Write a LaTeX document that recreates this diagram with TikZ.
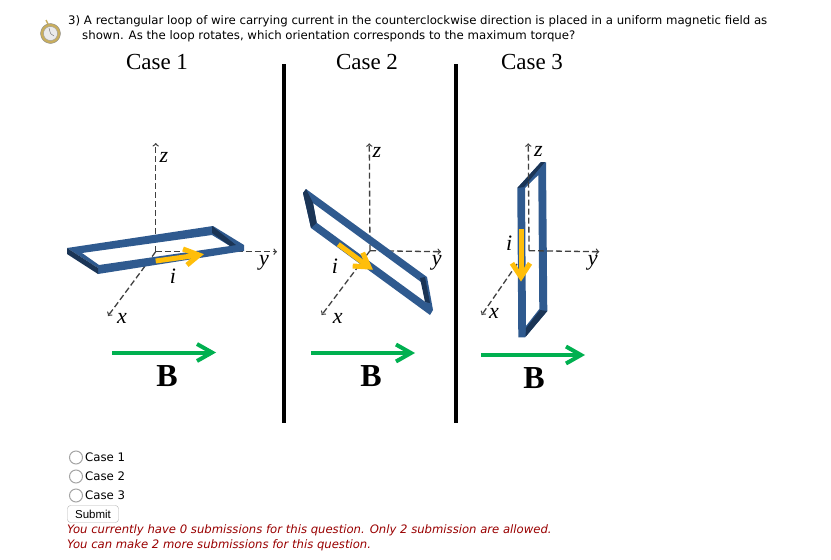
\documentclass[tikz,border=0pt]{standalone}
\usepackage{fontspec}
\usepackage{xcolor}
\setmainfont{DejaVu Sans}
\newfontfamily\serifface{Liberation Serif}
\newfontfamily\buttonface{Liberation Sans}
\definecolor{loopBlue}{HTML}{2F5A8F}
\definecolor{loopDark}{HTML}{1B3556}
\definecolor{currentGold}{HTML}{FFBE0A}
\definecolor{fieldGreen}{HTML}{00B050}
\definecolor{noteRed}{HTML}{990000}
\definecolor{watchGold}{HTML}{C9AE5D}
\tikzset{
    axisline/.style={->, >=to, line width=1.3pt, black!75, dash pattern=on 6pt off 3pt},
    axislabel/.style={font=\serifface\itshape\fontsize{22}{22}\selectfont},
    current/.style={line width=5pt, currentGold},
    field/.style={line width=4pt, fieldGreen},
    fieldlabel/.style={font=\serifface\bfseries\fontsize{32}{32}\selectfont},
    casetitle/.style={font=\serifface\fontsize{23}{23}\selectfont},
    divider/.style={line width=4pt, black},
    question/.style={anchor=west, inner sep=0pt, font=\fontsize{11.75}{11.75}\selectfont},
    choice/.style={anchor=west, inner sep=0pt, font=\fontsize{11.75}{11.75}\selectfont},
    radio/.style={draw=black!35, fill=white, line width=1pt},
    note/.style={anchor=west, inner sep=0pt, text=noteRed, font=\itshape\fontsize{11.65}{11.65}\selectfont}
}
\begin{document}
\begin{tikzpicture}[x=1pt, y=-1pt]
    \useasboundingbox (0,0) rectangle (831,560);

    % stopwatch
    \draw[watchGold, line width=1.5pt] (46,20) -- (48,24);
    \filldraw[draw=black!45, fill=watchGold] (50.5,33.5) circle (10);
    \filldraw[draw=black!40, fill=black!8] (50.5,33.5) circle (7);
    \draw[black!60] (50.5,33.5) -- (49,28);
    \draw[black!60] (50.5,33.5) -- (54,36);

    % question
    \node[question] (lineA) at (68,21) {3) A rectangular loop of wire carrying current in the counterclockwise direction is placed in a uniform magnetic field as};
    \node[question] (lineB) at (82,36) {shown. As the loop rotates, which orientation corresponds to the maximum torque?};

    \node[casetitle] (caseA) at (157,62) {Case 1};
    \node[casetitle] (caseB) at (367,62) {Case 2};
    \node[casetitle] (caseC) at (532,62) {Case 3};
    \draw[divider] (284,64) -- (284,423);
    \draw[divider] (456,64) -- (456,423);

    % case 1
    \draw[axisline] (155.7,251.7) -- (155.7,143);
    \draw[axisline] (155.7,251.7) -- (277,251.7);
    \draw[axisline] (155.7,251.7) -- (108,316);
    \fill[loopBlue, even odd rule] (67,248) -- (213,226) -- (244,245) -- (244,251) -- (98,274) -- (98,268) -- cycle
        (82,253) -- (212,235) -- (230,246) -- (99,265) -- cycle;
    \fill[loopDark] (67,248) -- (98,268) -- (98,274) -- (67,254) -- cycle;
    \fill[loopDark] (212,226) -- (236,245) -- (230,246) -- (212,233) -- cycle;
    \draw[current] (155.7,261) -- (199,255);
    \draw[current] (183,249) -- (199,255) -- (187,265);
    \node[axislabel] (zA) at (164,157) {z};
    \node[axislabel] (yA) at (264,263) {y};
    \node[axislabel] (xA) at (122,318) {x};
    \node[axislabel] (iA) at (173,276) {i};
    \draw[field] (112,352.5) -- (212,352.5);
    \draw[field] (197,344) -- (212,352.5) -- (197,361);
    \node[fieldlabel] (fieldA) at (167,376) {B};

    % case 2
    \draw[axisline] (370,250.7) -- (369.3,143.3);
    \draw[axisline] (370,250.7) -- (441,251.7);
    \draw[axisline] (370,250.7) -- (321.7,315);
    \fill[loopBlue, even odd rule] (306,189) -- (427,277) -- (433,310) -- (430,315) -- (311,228) -- (303,193) -- cycle
        (313,203) -- (421,282) -- (426.7,303) -- (316.7,222.7) -- cycle;
    \fill[loopDark] (303,193) -- (306,189) -- (313,203) -- (316.7,222.7) -- (311,228) -- cycle;
    \fill[loopDark] (420,278) -- (425,277) -- (430,303) -- (425,302) -- cycle;
    \draw[current] (338.3,244.3) -- (369,267);
    \draw[current] (362.7,252.7) -- (369,267) -- (352.7,266);
    \node[axislabel] (zB) at (377,152) {z};
    \node[axislabel] (yB) at (436.7,263) {y};
    \node[axislabel] (xB) at (337.7,318) {x};
    \node[axislabel] (iB) at (335,266) {i};
    \draw[field] (311,353) -- (411,353);
    \draw[field] (396,344.5) -- (411,353) -- (396,361.5);
    \node[fieldlabel] (fieldB) at (371,376) {B};

    % case 3
    \fill[loopBlue, even odd rule] (517.3,188) -- (541,162) -- (546,162.3) -- (547.3,311) -- (525,337.3) -- (518.3,337.3) -- cycle
        (525,188) -- (538.3,175) -- (539.3,309) -- (526,326) -- cycle;
    \fill[loopDark] (517.3,188) -- (541,162) -- (545,162) -- (524,187) -- cycle;
    \fill[loopDark] (526,328) -- (540,310) -- (547.3,311) -- (525.5,337) -- cycle;
    \draw[axisline] (529,250.7) -- (528.3,143.3);
    \draw[axisline] (529,250.7) -- (599.3,251.7);
    \draw[axisline] (517,264) -- (481.7,315);
    \draw[current] (521,229.3) -- (521,277);
    \draw[current] (512,263.3) -- (521,277) -- (530,263.3);
    \node[axislabel] (zC) at (538.3,151) {z};
    \node[axislabel] (yC) at (592.7,263) {y};
    \node[axislabel] (xC) at (494,313) {x};
    \node[axislabel] (iC) at (509.3,243.3) {i};
    \draw[field] (481,355) -- (581,355);
    \draw[field] (566,346.5) -- (581,355) -- (566,363.5);
    \node[fieldlabel] (fieldC) at (534,378) {B};

    % answer form
    \draw[radio] (76,457.5) circle (6.5);
    \draw[radio] (76,476.5) circle (6.5);
    \draw[radio] (76,495.5) circle (6.5);
    \node[choice] (choiceA) at (85,457.5) {Case 1};
    \node[choice] (choiceB) at (85,476.5) {Case 2};
    \node[choice] (choiceC) at (85,495.5) {Case 3};
    \draw[black!30, fill=white, rounded corners=3pt] (67.5,505.5) rectangle (118.5,522.5);
    \node[font=\buttonface\fontsize{11.5}{11.5}\selectfont] (submit) at (93,514) {Submit};
    \node[note] (noteA) at (67,530) {You currently have 0 submissions for this question. Only 2 submission are allowed.};
    \node[note] (noteB) at (67,545) {You can make 2 more submissions for this question.};
\end{tikzpicture}
\end{document}
